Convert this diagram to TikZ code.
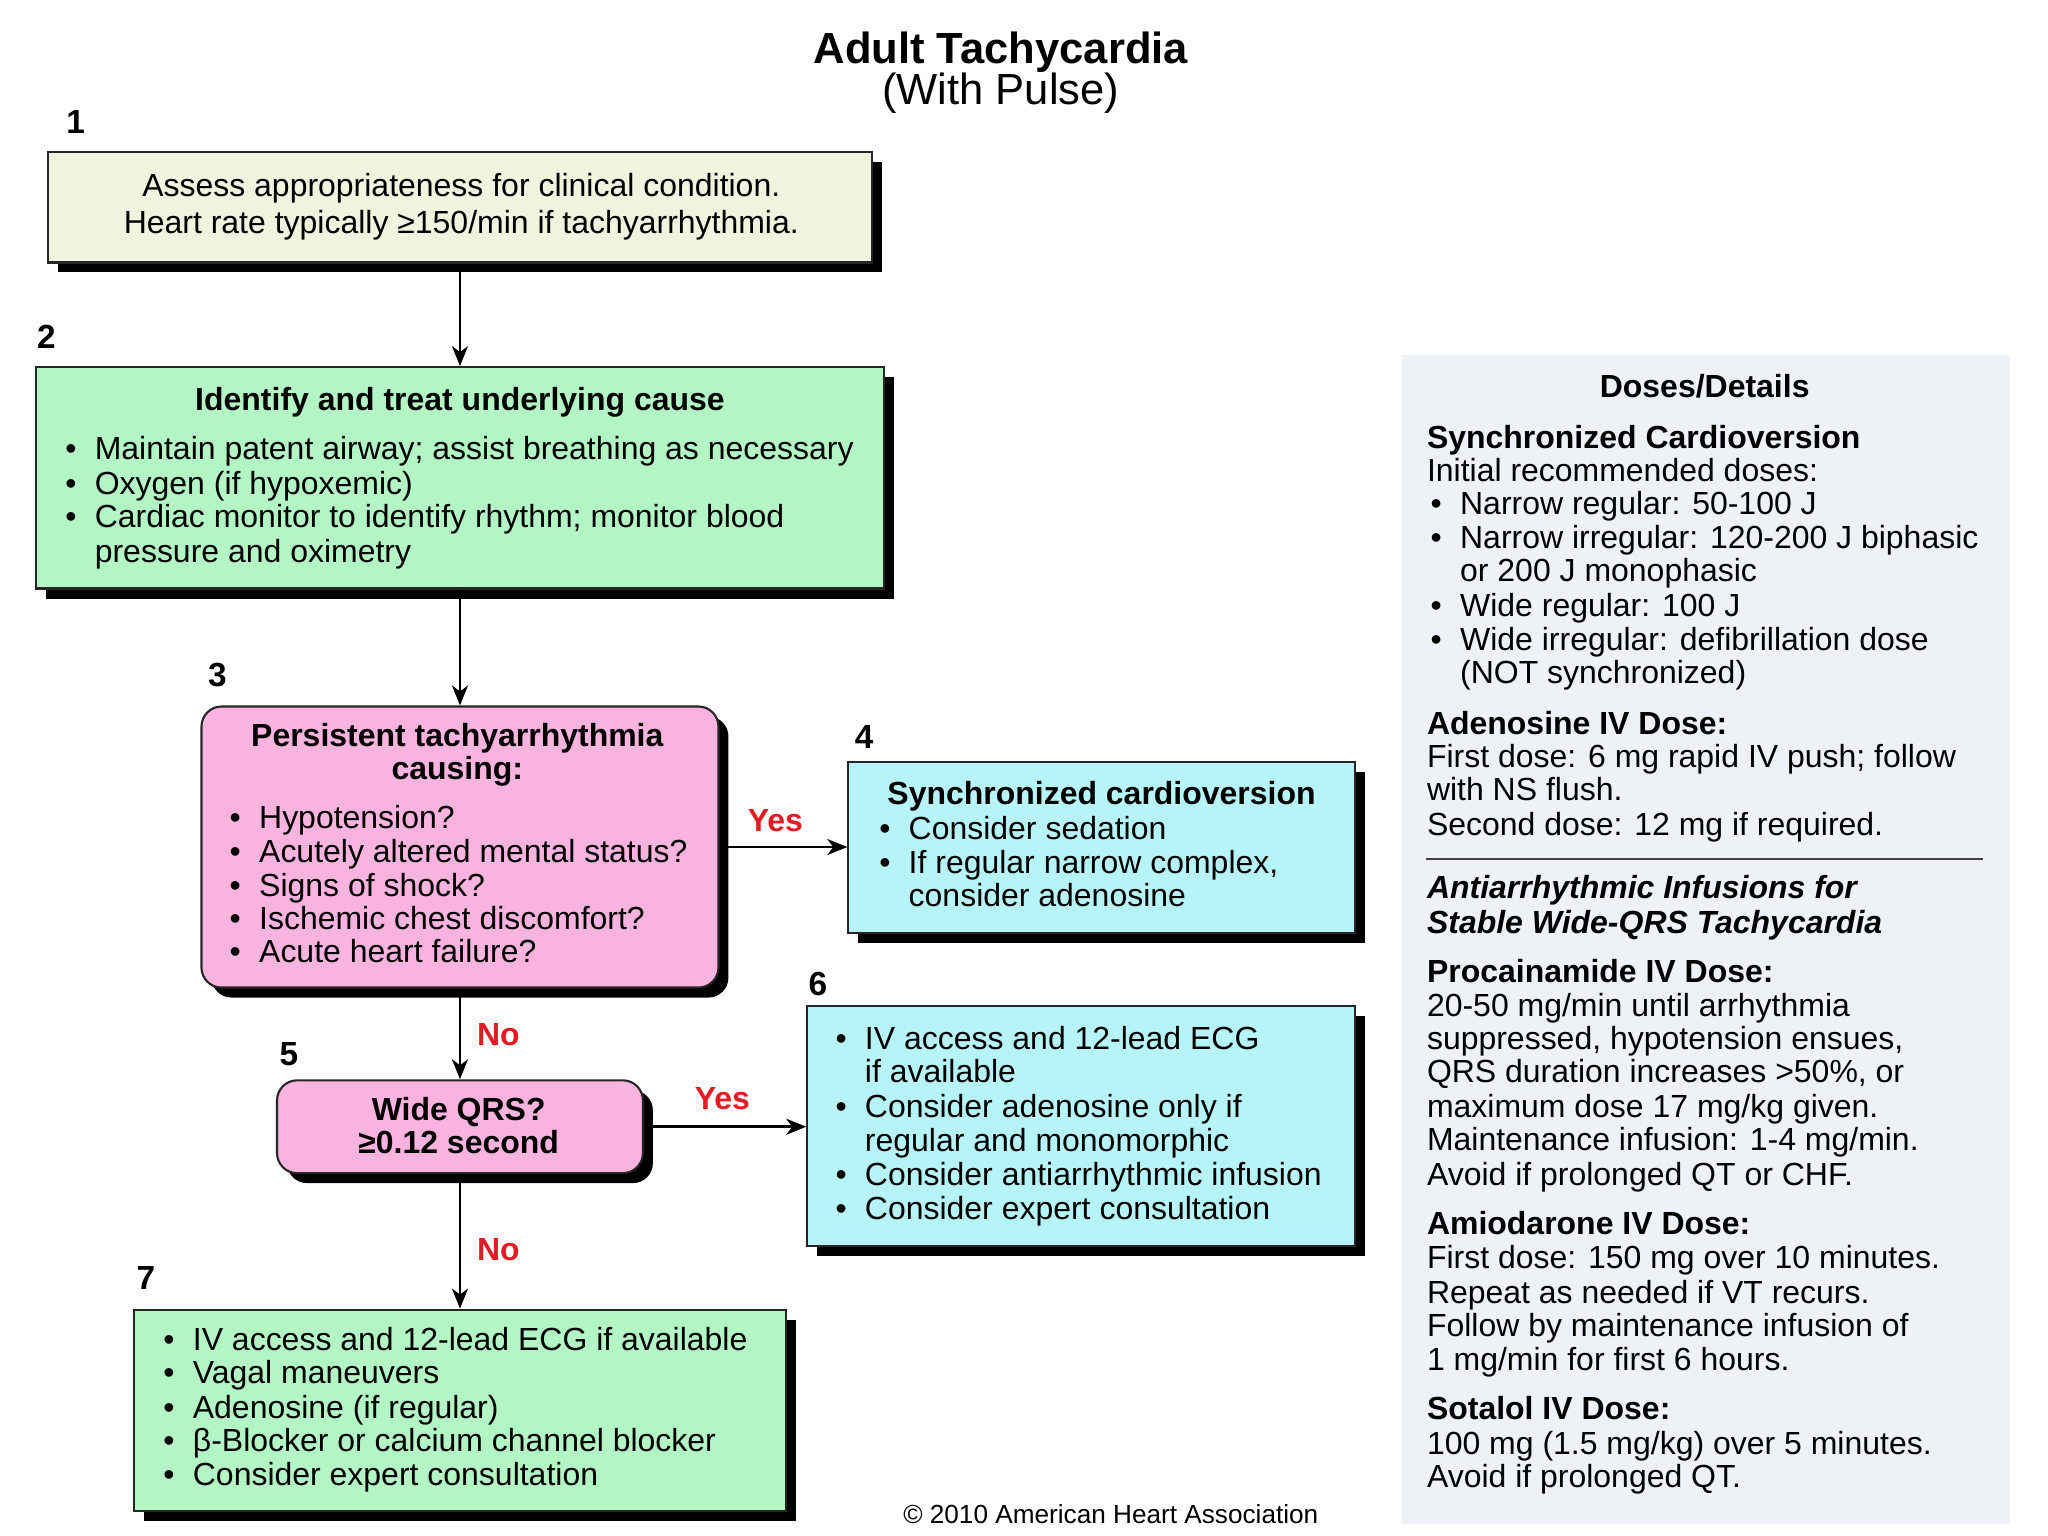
\documentclass[tikz,border=0pt]{standalone}
\usepackage{fontspec}
\setmainfont{Liberation Sans}
\usetikzlibrary{shadows,arrows.meta,fit}
\definecolor{cream}{HTML}{EFF4DF}
\definecolor{mint}{HTML}{B3F5C4}
\definecolor{pinkbox}{HTML}{F8B3DE}
\definecolor{cyanbox}{HTML}{B7F4F7}
\definecolor{dosebg}{HTML}{EEF2F6}
\definecolor{ahared}{HTML}{E31B23}
\newcommand\fs{\fontsize{9.1}{10}\selectfont}
\newcommand\bul{\llap{\textbullet\hspace{5.2pt}}}
\tikzset{
  box/.style={draw=black!85, line width=0.6pt, inner sep=0pt,
    drop shadow={shadow xshift=1mm, shadow yshift=-1mm, opacity=1, fill=black}},
  rbox/.style={box, rounded corners=2mm},
  tx/.style={anchor=base west, inner sep=0pt, font=\fs},
  txc/.style={anchor=base, inner sep=0pt, font=\fs},
  hd/.style={anchor=base, inner sep=0pt, font=\fs\bfseries},
  num/.style={anchor=center, inner sep=0pt, font=\fontsize{9.5}{10}\selectfont\bfseries},
  lab/.style={anchor=base, inner sep=0pt, text=ahared, font=\fs\bfseries},
  arr/.style={line width=0.8pt, -{Stealth[length=2mm,width=1.6mm,inset=0.6mm]}},
  dt/.style={anchor=base west, inner sep=0pt, font=\fs},
  db/.style={anchor=base west, inner sep=0pt, font=\fs\bfseries},
}
\begin{document}
\begin{tikzpicture}[x=0.013256cm,y=-0.013256cm]
\useasboundingbox (0,0) rectangle (1545,1158.75);
\fill[white] (0,0) rectangle (1545,1158.75);

% title
\node[anchor=base, inner sep=0pt, font=\fontsize{12.4}{14}\selectfont\bfseries] (title) at (755,48) {Adult Tachycardia};
\node[anchor=base, inner sep=0pt, font=\fontsize{12.4}{14}\selectfont] (subtitle) at (755,79) {(With Pulse)};

% boxes
\node[box, fill=cream, fit={(36,115)(658,198)}] (b1) {};
\node[box, fill=mint, fit={(27,277)(667,444)}] (b2) {};
\node[rbox, fill=pinkbox, fit={(152,533)(542,745)}] (b3) {};
\node[box, fill=cyanbox, fit={(640,575)(1022,704)}] (b4) {};
\node[rbox, fill=pinkbox, fit={(209,815)(485,885)}] (b5) {};
\node[box, fill=cyanbox, fit={(609,759)(1022,940)}] (b6) {};
\node[box, fill=mint, fit={(101,988)(593,1140)}] (b7) {};

% step numbers
\node[num] (n1) at (57,92) {1};
\node[num] (n2) at (35,254) {2};
\node[num] (n3) at (164,509) {3};
\node[num] (n4) at (652,556) {4};
\node[num] (n5) at (218,795) {5};
\node[num] (n6) at (617,742) {6};
\node[num] (n7) at (110,964) {7};

% box 1
\node[txc] (b1a) at (348,148) {Assess appropriateness for clinical condition.};
\node[txc] (b1b) at (348,176) {Heart rate typically ≥150/min if tachyarrhythmia.};

% box 2
\node[hd] (b2h) at (347,310) {Identify and treat underlying cause};
\node[tx] (b2a) at (71,347) {\bul Maintain patent airway; assist breathing as necessary};
\node[tx] (b2b) at (71,373) {\bul Oxygen (if hypoxemic)};
\node[tx] (b2c) at (71,398) {\bul Cardiac monitor to identify rhythm; monitor blood};
\node[tx] (b2d) at (71,424) {pressure and oximetry};

% box 3
\node[hd] (b3h) at (345,563) {Persistent tachyarrhythmia};
\node[hd] (b3i) at (345,588) {causing:};
\node[tx] (b3a) at (195,625) {\bul Hypotension?};
\node[tx] (b3b) at (195,651) {\bul Acutely altered mental status?};
\node[tx] (b3c) at (195,676) {\bul Signs of shock?};
\node[tx] (b3d) at (195,701) {\bul Ischemic chest discomfort?};
\node[tx] (b3e) at (195,726) {\bul Acute heart failure?};

% box 4
\node[hd] (b4h) at (831,607) {Synchronized cardioversion};
\node[tx] (b4a) at (685,633) {\bul Consider sedation};
\node[tx] (b4b) at (685,659) {\bul If regular narrow complex,};
\node[tx] (b4c) at (685,684) {consider adenosine};

% box 5
\node[hd] (b5a) at (346,845) {Wide QRS?};
\node[hd] (b5b) at (346,870) {≥0.12 second};

% box 6
\node[tx] (b6a) at (652,792) {\bul IV access and 12-lead ECG};
\node[tx] (b6b) at (652,817) {if available};
\node[tx] (b6c) at (652,843) {\bul Consider adenosine only if};
\node[tx] (b6d) at (652,869) {regular and monomorphic};
\node[tx] (b6e) at (652,894) {\bul Consider antiarrhythmic infusion};
\node[tx] (b6f) at (652,920) {\bul Consider expert consultation};

% box 7
\node[tx] (b7a) at (145,1019) {\bul IV access and 12-lead ECG if available};
\node[tx] (b7b) at (145,1044) {\bul Vagal maneuvers};
\node[tx] (b7c) at (145,1070) {\bul Adenosine (if regular)};
\node[tx] (b7d) at (145,1095) {\bul β-Blocker or calcium channel blocker};
\node[tx] (b7e) at (145,1121) {\bul Consider expert consultation};

% connectors
\draw[arr] (b1) -- (b2);
\draw[arr] (b2) -- (b3);
\draw[arr] (b3.east) -- (b3.east -| b4.west);
\draw[arr] (b3) -- (b5);
\draw[arr] (b5.east) -- (b5.east -| b6.west);
\draw[arr] (b5) -- (b7);
\node[lab] (y1) at (585,627) {Yes};
\node[lab] (y2) at (545,837) {Yes};
\node[lab] (no1) at (376,789) {No};
\node[lab] (no2) at (376,951) {No};

% copyright
\node[anchor=center, inner sep=0pt, font=\fontsize{7.45}{8}\selectfont] (copy) at (838,1142) {© 2010 American Heart Association};

% doses panel
\fill[dosebg] (1058,268) rectangle (1516,1150);
\node[hd] (dh) at (1286,300) {Doses/Details};
\node[db] (d1) at (1076,338) {Synchronized Cardioversion};
\node[dt] (d2) at (1076,363) {Initial recommended doses:};
\node[dt] (d3) at (1101,388) {\bul Narrow regular: 50-100 J};
\node[dt] (d4) at (1101,414) {\bul Narrow irregular: 120-200 J biphasic};
\node[dt] (d5) at (1101,439) {or 200 J monophasic};
\node[dt] (d6) at (1101,465) {\bul Wide regular: 100 J};
\node[dt] (d7) at (1101,491) {\bul Wide irregular: defibrillation dose};
\node[dt] (d8) at (1101,516) {(NOT synchronized)};
\node[db] (d9) at (1076,554) {Adenosine IV Dose:};
\node[dt] (d10) at (1076,579) {First dose: 6 mg rapid IV push; follow};
\node[dt] (d11) at (1076,604) {with NS flush.};
\node[dt] (d12) at (1076,630) {Second dose: 12 mg if required.};
\draw[line width=0.6pt, black!75] (1076,648) -- (1496,648);
\node[db, font=\fs\bfseries\itshape] (d13) at (1076,678) {Antiarrhythmic Infusions for};
\node[db, font=\fs\bfseries\itshape] (d14) at (1076,704) {Stable Wide-QRS Tachycardia};
\node[db] (d15) at (1076,741) {Procainamide IV Dose:};
\node[dt] (d16) at (1076,767) {20-50 mg/min until arrhythmia};
\node[dt] (d17) at (1076,792) {suppressed, hypotension ensues,};
\node[dt] (d18) at (1076,817) {QRS duration increases >50\%, or};
\node[dt] (d19) at (1076,843) {maximum dose 17 mg/kg given.};
\node[dt] (d20) at (1076,868) {Maintenance infusion: 1-4 mg/min.};
\node[dt] (d21) at (1076,894) {Avoid if prolonged QT or CHF.};
\node[db] (d22) at (1076,931) {Amiodarone IV Dose:};
\node[dt] (d23) at (1076,957) {First dose: 150 mg over 10 minutes.};
\node[dt] (d24) at (1076,983) {Repeat as needed if VT recurs.};
\node[dt] (d25) at (1076,1008) {Follow by maintenance infusion of};
\node[dt] (d26) at (1076,1034) {1 mg/min for first 6 hours.};
\node[db] (d27) at (1076,1071) {Sotalol IV Dose:};
\node[dt] (d28) at (1076,1097) {100 mg (1.5 mg/kg) over 5 minutes.};
\node[dt] (d29) at (1076,1122) {Avoid if prolonged QT.};
\end{tikzpicture}
\end{document}
